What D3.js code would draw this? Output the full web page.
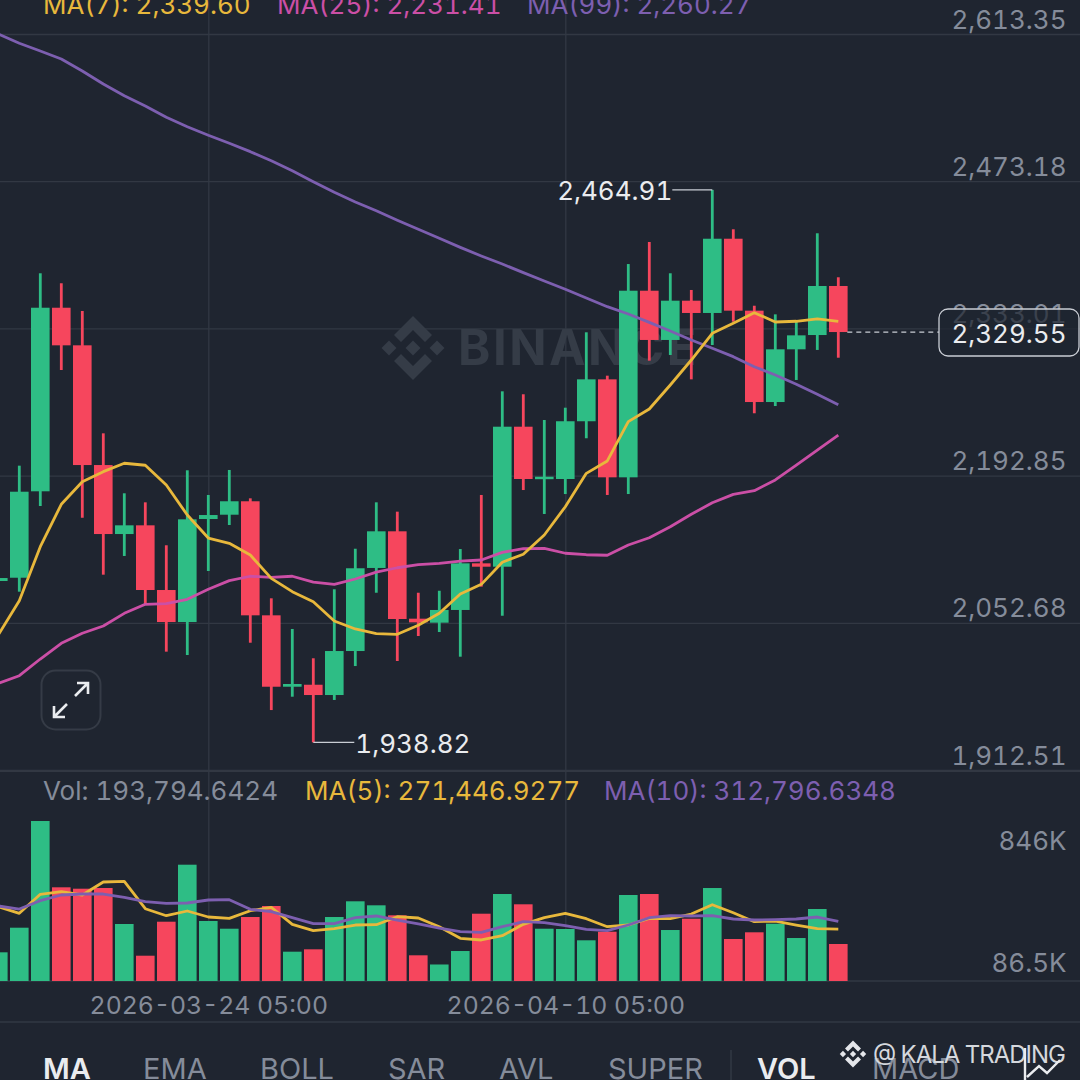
<!DOCTYPE html>
<html lang="en">
<head>
<meta charset="UTF-8">
<title>Binance kline</title>
<script src="https://cdn.jsdelivr.net/npm/d3@7"></script>
<style>
  html, body { margin: 0; padding: 0; background: #1f2530; overflow: hidden; }
  text { font-family: Inter, "Noto Sans", sans-serif; font-variant-numeric: tabular-nums; }
</style>
</head>
<body>
<script>
// candles
const opens = [2092.5, 2095.6, 2177.9, 2352.7, 2316.9, 2202.9, 2137.2, 2145.5, 2083.9, 2053.4, 2151.5, 2155.6, 2168.4, 2059.8, 1991.8, 1993.7, 1983.9, 2025.8, 2104.9, 2139.8, 2056.6, 2052.8, 2064.9, 2109.3, 2106.1, 2239.4, 2189.6, 2189.6, 2244.6, 2284.5, 2191.2, 2368.9, 2322.0, 2359.4, 2347.7, 2418.4, 2349.9, 2262.9, 2313.1, 2326.7, 2373.4];
const closes = [2095.3, 2177.5, 2352.7, 2316.9, 2202.9, 2137.2, 2145.5, 2083.9, 2053.4, 2151.2, 2155.3, 2168.4, 2059.8, 1991.8, 1994.4, 1983.9, 2025.8, 2104.6, 2139.8, 2056.3, 2053.1, 2064.9, 2109.3, 2106.1, 2239.4, 2189.6, 2191.8, 2244.6, 2284.5, 2191.2, 2368.9, 2322.0, 2359.4, 2347.7, 2418.4, 2349.9, 2262.9, 2313.1, 2326.4, 2373.4, 2329.55];
const highs = [2103.0, 2202.3, 2385.5, 2376.0, 2349.6, 2233.1, 2176.0, 2167.4, 2126.5, 2197.9, 2174.4, 2198.2, 2171.2, 2076.0, 2046.8, 2018.9, 2084.6, 2123.2, 2167.4, 2158.5, 2081.3, 2083.2, 2122.9, 2174.4, 2273.1, 2270.3, 2245.8, 2257.5, 2329.3, 2288.0, 2394.3, 2415.3, 2385.5, 2369.6, 2464.91, 2427.4, 2354.6, 2346.4, 2339.4, 2423.6, 2381.7];
const lows = [2083.9, 2082.3, 2163.9, 2293.4, 2152.7, 2098.5, 2116.3, 2070.3, 2025.2, 2022.0, 2102.0, 2145.8, 2033.7, 1969.6, 1982.3, 1938.82, 1979.2, 2011.5, 2081.3, 2016.3, 2040.1, 2043.9, 2020.4, 2087.1, 2059.4, 2179.1, 2156.3, 2175.3, 2228.4, 2174.4, 2175.3, 2302.3, 2307.7, 2284.5, 2317.2, 2339.4, 2252.2, 2259.1, 2283.9, 2312.5, 2305.1];
const ma7 = [2041.1, 2073.7, 2125.1, 2165.5, 2187.0, 2196.6, 2204.6, 2202.7, 2183.9, 2155.3, 2133.4, 2128.4, 2117.2, 2095.0, 2082.3, 2072.8, 2054.4, 2046.8, 2042.3, 2041.7, 2050.3, 2061.7, 2080.1, 2089.3, 2110.3, 2117.9, 2136.3, 2163.2, 2195.0, 2206.8, 2244.2, 2256.3, 2279.1, 2302.9, 2328.3, 2337.9, 2348.0, 2339.1, 2339.8, 2342.0, 2339.6];
const ma25 = [1995.1, 2002.3, 2018.2, 2033.1, 2042.7, 2049.6, 2061.7, 2070.3, 2070.9, 2075.0, 2084.6, 2092.8, 2097.0, 2096.0, 2097.0, 2091.5, 2089.3, 2094.4, 2101.0, 2105.1, 2108.0, 2109.3, 2111.5, 2112.5, 2119.8, 2123.2, 2123.6, 2118.9, 2117.5, 2117.0, 2126.8, 2133.7, 2144.2, 2156.0, 2167.0, 2175.0, 2178.5, 2188.7, 2202.9, 2217.2, 2231.41];
const ma99 = [2613.3, 2604.5, 2597.2, 2589.5, 2578.1, 2565.7, 2554.6, 2544.8, 2534.0, 2525.1, 2516.9, 2509.3, 2501.3, 2492.7, 2483.2, 2472.7, 2462.6, 2453.4, 2445.1, 2436.0, 2427.4, 2418.8, 2410.2, 2402.0, 2394.3, 2386.1, 2378.2, 2370.3, 2362.0, 2353.7, 2346.7, 2338.8, 2330.5, 2322.0, 2314.1, 2306.1, 2296.5, 2288.6, 2279.8, 2270.3, 2260.27];

// volume pane, in thousands
const volumes = [150.3, 279.2, 838.1, 490.8, 483.5, 487.1, 298.6, 132.5, 310.6, 609.2, 314.3, 273.9, 335.2, 392.9, 153.5, 166.0, 335.2, 417.5, 396.5, 344.1, 134.6, 86.5, 157.1, 352.5, 455.7, 401.8, 273.9, 272.4, 213.2, 258.2, 450.5, 455.7, 267.1, 326.3, 487.1, 220.0, 255.1, 300.1, 225.2, 377.1, 193.8];
const volMa5 = [389.2, 354.6, 454.1, 467.8, 450.5, 518.6, 522.2, 378.7, 342.0, 366.7, 335.2, 328.4, 368.2, 386.0, 297.0, 263.5, 273.9, 293.3, 294.9, 336.8, 330.0, 284.4, 223.7, 214.8, 237.3, 297.0, 331.6, 354.6, 326.3, 284.4, 293.3, 328.4, 326.3, 350.9, 399.7, 357.8, 310.6, 314.3, 293.3, 273.9, 271.4];
const volMa10 = [392.9, 377.1, 420.6, 450.5, 455.7, 455.7, 438.4, 415.4, 407.0, 408.6, 424.3, 425.9, 375.6, 363.0, 331.6, 300.1, 300.1, 331.6, 340.5, 319.5, 298.6, 277.6, 258.2, 255.1, 284.4, 310.6, 305.4, 289.7, 270.8, 263.5, 293.3, 331.6, 342.0, 340.5, 342.0, 324.8, 319.5, 321.1, 324.8, 335.2, 312.8];

// axis labels
const priceTicks = [2613.35, 2473.18, 2333.01, 2192.85, 2052.68, 1912.51];
const volTicks = [846, 86.5];
const volTickLabels = ["846K", "86.5K"];
const dateTicks = [10, 27];
const dateLabels = ["2026-03-24 05:00", "2026-04-10 05:00"];
const lastPrice = 2329.55;

const tabs = ["MA", "EMA", "BOLL", "SAR", "AVL", "SUPER", "VOL", "MACD"];
const tabX = [43, 143, 260, 388, 499, 608, 757, 872];
const activeTabs = ["MA", "VOL"];

const bg = "#1f2530", gridColor = "#323843", grey = "#858c9a", white = "#eaecef";
const up = "#2ebd85", down = "#f6465d";
const gold = "#e8b83c", pink = "#cb4fa6", violet = "#7d5fb0";

const fmt = d3.format(",.2f");
const idx = d3.range(opens.length);

const x = d3.scaleLinear().domain([0, 40]).range([-1.7, 838.3]);
const y = d3.scaleLinear().domain([1912.51, 2613.35]).range([770, 34]);
const yVol = d3.scaleLinear().domain([0, 846]).range([981, 819.5]);
// volume labels do not sit on their values in the app, so they get their own scale
const yVolLabel = d3.scaleLinear().domain([86.5, 846]).range([963, 841]);

const svg = d3.select("body").append("svg").attr("width", 1080).attr("height", 1080)
  .style("display", "block").style("background", bg);

// grid
const xAxis = d3.axisBottom(x).tickValues(dateTicks).tickSize(-981).tickPadding(12)
  .tickFormat((d, i) => dateLabels[i]);
const gx = svg.append("g").attr("transform", "translate(0,981)").call(xAxis);
gx.select(".domain").remove();
gx.selectAll("line").attr("stroke", gridColor).attr("stroke-width", 1.3);
gx.selectAll("text").attr("y", 0).attr("dy", 33).attr("fill", grey).attr("font-size", 24.8).attr("font-family", "Inter");

const yAxis = d3.axisLeft(y).tickValues(priceTicks).tickSize(1080).tickFormat(fmt);
const gy = svg.append("g").attr("transform", "translate(1080,0)").call(yAxis);
gy.select(".domain").remove();
gy.selectAll("line").attr("stroke", gridColor).attr("stroke-width", 1.3);
gy.selectAll("text").attr("x", -13.5).attr("dy", -6).attr("fill", grey).attr("font-size", 26).attr("font-family", "Inter");

svg.append("line").attr("x1", 0).attr("x2", 1080).attr("y1", 771).attr("y2", 771).attr("stroke", gridColor).attr("stroke-width", 2);
svg.append("line").attr("x1", 0).attr("x2", 1080).attr("y1", yVol(0)).attr("y2", yVol(0)).attr("stroke", gridColor).attr("stroke-width", 1.5);
svg.append("line").attr("x1", 0).attr("x2", 1080).attr("y1", 1022).attr("y2", 1022).attr("stroke", gridColor).attr("stroke-width", 1.5);

// binance logo: centre diamonds plus two chevrons
function logo(g, fill) {
  const diamond = [[0, -7.5], [7.5, 0], [0, 7.5], [-7.5, 0]];
  [[0, 0], [-24, 0], [24, 0]].forEach(c => {
    g.append("polygon").attr("fill", fill)
      .attr("points", diamond.map(p => [p[0] + c[0], p[1] + c[1]].join(",")).join(" "));
  });
  const chevron = [[0, -32], [19, -13], [12, -6], [0, -18], [-12, -6], [-19, -13]];
  [1, -1].forEach(s => {
    g.append("polygon").attr("fill", fill)
      .attr("points", chevron.map(p => [p[0], p[1] * s].join(",")).join(" "));
  });
}
logo(svg.append("g").attr("transform", "translate(413,348)"), "#353c47");
svg.append("text").attr("x", 458).attr("y", 365).attr("fill", "#353c47")
  .attr("font-size", 49).attr("font-weight", 700).attr("letter-spacing", 2.5).text("BINANCE");

// candles
const candle = svg.append("g").selectAll("g").data(idx).join("g")
  .attr("fill", i => closes[i] >= opens[i] ? up : down);
candle.append("rect").attr("x", i => x(i) - 1.4).attr("width", 2.8)
  .attr("y", i => y(highs[i])).attr("height", i => y(lows[i]) - y(highs[i]));
candle.append("rect").attr("x", i => x(i) - 9.3).attr("width", 18.6)
  .attr("y", i => y(Math.max(opens[i], closes[i])))
  .attr("height", i => Math.max(2.5, Math.abs(y(opens[i]) - y(closes[i]))));

// volume
svg.append("g").selectAll("rect").data(idx).join("rect")
  .attr("x", i => x(i) - 9.3).attr("width", 18.6)
  .attr("y", i => yVol(volumes[i])).attr("height", i => yVol(0) - yVol(volumes[i]))
  .attr("fill", i => closes[i] >= opens[i] ? up : down);

// moving averages
const priceLine = d3.line().x((d, i) => x(i)).y(d => y(d));
const volLine = d3.line().x((d, i) => x(i)).y(d => yVol(d));
[[ma99, violet], [ma25, pink], [ma7, gold]].forEach(s => {
  svg.append("path").attr("d", priceLine(s[0])).attr("fill", "none").attr("stroke", s[1])
    .attr("stroke-width", 2.8).attr("stroke-linejoin", "round");
});
[[volMa5, gold], [volMa10, violet]].forEach(s => {
  svg.append("path").attr("d", volLine(s[0])).attr("fill", "none").attr("stroke", s[1])
    .attr("stroke-width", 2.8).attr("stroke-linejoin", "round");
});

// high / low markers
const hi = d3.maxIndex(highs), lo = d3.minIndex(lows);
svg.append("line").attr("x1", x(hi)).attr("x2", x(hi) - 40).attr("y1", y(highs[hi])).attr("y2", y(highs[hi])).attr("stroke", "#c9cdd4").attr("stroke-width", 1.2);
svg.append("text").attr("x", x(hi) - 40).attr("y", y(highs[hi]) + 10).attr("text-anchor", "end")
  .attr("fill", white).attr("font-size", 26).text(fmt(highs[hi]));
svg.append("line").attr("x1", x(lo)).attr("x2", x(lo) + 41).attr("y1", y(lows[lo])).attr("y2", y(lows[lo])).attr("stroke", "#c9cdd4").attr("stroke-width", 1.2);
svg.append("text").attr("x", x(lo) + 42).attr("y", y(lows[lo]) + 11)
  .attr("fill", white).attr("font-size", 26).text(fmt(lows[lo]));

// last price tag
svg.append("line").attr("x1", x(40) + 9).attr("x2", 939).attr("y1", y(lastPrice)).attr("y2", y(lastPrice))
  .attr("stroke", "#c9cdd4").attr("stroke-width", 1.2).attr("stroke-dasharray", "5 4");
svg.append("rect").attr("x", 939).attr("y", 309).attr("width", 140).attr("height", 47).attr("rx", 9)
  .attr("fill", bg).attr("fill-opacity", 0.72).attr("stroke", "#c9cdd4").attr("stroke-width", 1.3);
svg.append("text").attr("x", 1066.5).attr("y", y(lastPrice) + 11).attr("text-anchor", "end")
  .attr("fill", white).attr("font-size", 26).text(fmt(lastPrice));

// volume axis labels
const gv = svg.append("g").attr("transform", "translate(1080,0)")
  .call(d3.axisLeft(yVolLabel).tickValues(volTicks).tickSize(0).tickPadding(13.5).tickFormat((d, i) => volTickLabels[i]));
gv.select(".domain").remove();
gv.selectAll("text").attr("fill", grey).attr("font-size", 26).attr("font-family", "Inter");

// legends
const legend = (tx, ty, str, fill) => svg.append("text").attr("x", tx).attr("y", ty).attr("fill", fill)
  .attr("font-size", 26).text(str);
legend(43, 14, "MA(7): " + fmt(ma7[40]), gold);
legend(277, 14, "MA(25): " + fmt(ma25[40]), pink);
legend(527, 14, "MA(99): " + fmt(ma99[40]), violet);
legend(43, 800, "Vol: 193,794.6424", grey);
legend(305, 800, "MA(5): 271,446.9277", gold);
legend(604, 800, "MA(10): 312,796.6348", violet);

// bottom tabs
svg.append("g").selectAll("text").data(tabs).join("text")
  .attr("x", (d, i) => tabX[i]).attr("y", 1079).attr("font-size", 29)
  .attr("font-weight", d => activeTabs.includes(d) ? 600 : 400)
  .attr("fill", d => activeTabs.includes(d) ? white : grey).text(d => d);
svg.append("line").attr("x1", 731).attr("x2", 731).attr("y1", 1050).attr("y2", 1080).attr("stroke", gridColor).attr("stroke-width", 1.5);

// expand button
const btn = svg.append("g").attr("transform", "translate(71,700)");
btn.append("rect").attr("x", -29.5).attr("y", -29.5).attr("width", 59).attr("height", 59).attr("rx", 14)
  .attr("fill", "none").attr("stroke", "#353b46").attr("stroke-width", 2);
["M4,-4 L17,-17 M6,-17 H17 V-6", "M-4,4 L-17,17 M-6,17 H-17 V6"].forEach(d => {
  btn.append("path").attr("d", d).attr("fill", "none").attr("stroke", white).attr("stroke-width", 2.6);
});

// poster's stamp over the app
const stamp = svg.append("g").attr("transform", "translate(853,1054) scale(0.42)");
logo(stamp, "#e4e6ea");
svg.append("text").attr("x", 873).attr("y", 1063).attr("fill", "#d5d8dd").attr("font-size", 24).attr("textLength", 193).text("@ KALA TRADING");

// chart type icon, cut off by the screen edge
svg.append("path").attr("d", "M1025,1048 V1080 M1027,1077 L1039,1066 L1047,1073 L1060,1060")
  .attr("fill", "none").attr("stroke", white).attr("stroke-width", 2.4);
</script>
</body>
</html>
